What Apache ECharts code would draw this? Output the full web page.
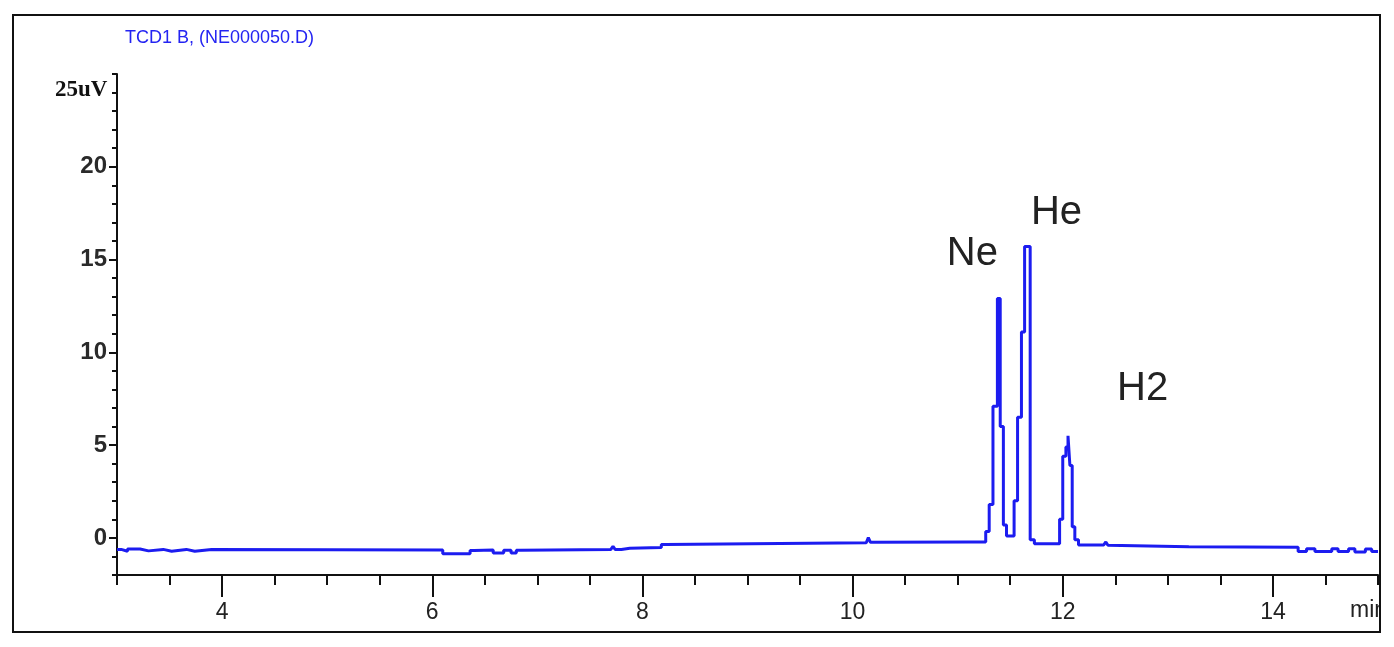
<!DOCTYPE html>
<html>
<head>
<meta charset="utf-8">
<script src="https://cdn.jsdelivr.net/npm/echarts@6/dist/echarts.min.js"></script>
<style>
  html, body { margin: 0; padding: 0; background: #fff; }
  #chart { width: 1394px; height: 647px; }
</style>
</head>
<body>
<div id="chart"></div>
<script>
  // chromatogram trace (min / uV)
  var retentionTime = [
    3.00, 3.04, 3.04, 3.10, 3.10, 3.22, 3.22, 3.30, 3.30, 3.44, 3.44, 3.52, 3.52, 3.66, 3.66, 3.74, 3.74, 3.90, 3.90,
    6.10, 6.10, 6.36, 6.36, 6.40, 6.40, 6.58, 6.58, 6.68, 6.68, 6.75, 6.75, 6.80, 6.80, 6.84, 6.84,
    7.70, 7.72, 7.74, 7.80, 7.80, 7.88, 7.88, 8.18, 8.18, 8.22, 8.22,
    10.13, 10.15, 10.17, 11.10, 11.267, 11.267, 11.30, 11.30, 11.336, 11.336, 11.378, 11.378,
    11.405, 11.405, 11.435, 11.435, 11.465, 11.465, 11.537, 11.537, 11.57, 11.57, 11.607, 11.607,
    11.637, 11.637, 11.69, 11.69, 11.73, 11.73,
    11.97, 11.97, 12.00, 12.00, 12.03, 12.03, 12.05, 12.05, 12.068, 12.068, 12.09, 12.09, 12.115, 12.115, 12.15, 12.15,
    12.39, 12.41, 12.43, 13.20, 14.24, 14.24, 14.32, 14.32, 14.40, 14.40, 14.56, 14.56, 14.62, 14.62, 14.72, 14.72,
    14.78, 14.78, 14.88, 14.88, 14.94, 14.94, 15.00
  ];
  var signal = [
    -0.62, -0.62, -0.72, -0.72, -0.60, -0.60, -0.70, -0.70, -0.62, -0.62, -0.72, -0.72, -0.62, -0.62, -0.72, -0.72, -0.62, -0.62, -0.65,
    -0.65, -0.86, -0.86, -0.68, -0.68, -0.65, -0.65, -0.82, -0.82, -0.66, -0.66, -0.82, -0.82, -0.66, -0.66, -0.66,
    -0.62, -0.45, -0.62, -0.62, -0.56, -0.56, -0.52, -0.52, -0.36, -0.36, -0.28,
    -0.26, 0.02, -0.24, -0.22, -0.22, 0.35, 0.35, 1.8, 1.8, 7.1, 7.1, 12.9,
    12.9, 6.0, 6.0, 0.7, 0.7, 0.1, 0.1, 2.0, 2.0, 6.5, 6.5, 11.1,
    11.1, 15.7, 15.7, -0.1, -0.1, -0.32,
    -0.32, 1.0, 1.0, 4.4, 4.4, 4.9, 4.9, 5.5, 5.5, 3.9, 3.9, 0.6, 0.6, -0.1, -0.1, -0.38,
    -0.38, -0.22, -0.40, -0.48, -0.50, -0.74, -0.74, -0.58, -0.58, -0.74, -0.74, -0.58, -0.58, -0.74, -0.74, -0.58,
    -0.58, -0.76, -0.76, -0.60, -0.60, -0.74, -0.74
  ];

  // axis ticks
  var xLabelValues = [4, 6, 8, 10, 12, 14];
  var xMinorTicks = [3, 3.5, 4.5, 5, 5.5, 6.5, 7, 7.5, 8.5, 9, 9.5, 10.5, 11, 11.5, 12.5, 13, 13.5, 14.5, 15];
  var yLabelValues = [0, 5, 10, 15, 20];
  var yMinorTicks = [-2, -1, 1, 2, 3, 4, 6, 7, 8, 9, 11, 12, 13, 14, 16, 17, 18, 19, 21, 22, 23, 24, 25];

  // peak annotations
  var peakNames = ['Ne', 'He', 'H2'];
  var peakLabelAt = [[11.14, 15.3], [11.94, 17.5], [12.76, 8.0]];

  var chart = echarts.init(document.getElementById('chart'));

  var trace = retentionTime.map(function (t, i) { return [t, signal[i]]; });
  var blue = '#1c1cf0';
  var fontFam = '"Liberation Sans", Arial, sans-serif';

  chart.setOption({
    animation: false,
    backgroundColor: '#fff',
    grid: { left: 117, right: 16, top: 74, bottom: 72 },
    xAxis: [
      {
        type: 'value', min: 3, max: 15, splitLine: { show: false },
        axisLine: { show: true, onZero: false, lineStyle: { color: '#111', width: 2 } },
        axisTick: { show: true, customValues: xLabelValues, length: 22, lineStyle: { color: '#111', width: 2 } },
        axisLabel: { show: true, customValues: xLabelValues, margin: 26, fontSize: 23, color: '#222', fontFamily: fontFam }
      },
      {
        type: 'value', min: 3, max: 15, splitLine: { show: false },
        position: 'bottom',
        axisLine: { show: false, onZero: false },
        axisTick: { show: true, customValues: xMinorTicks, length: 10, lineStyle: { color: '#111', width: 2 } },
        axisLabel: { show: false }
      }
    ],
    yAxis: [
      {
        type: 'value', min: -2, max: 25, splitLine: { show: false },
        axisLine: { show: true, onZero: false, lineStyle: { color: '#111', width: 2 } },
        axisTick: { show: true, customValues: yLabelValues, length: 8, lineStyle: { color: '#111', width: 2 } },
        axisLabel: { show: true, customValues: yLabelValues, margin: 10, fontSize: 24, fontWeight: 'bold', color: '#2a2a2a', fontFamily: fontFam }
      },
      {
        type: 'value', min: -2, max: 25, splitLine: { show: false },
        position: 'left',
        axisLine: { show: false, onZero: false },
        axisTick: { show: true, customValues: yMinorTicks, length: 5, lineStyle: { color: '#111', width: 2 } },
        axisLabel: { show: false }
      }
    ],
    series: [
      {
        type: 'line',
        data: trace,
        xAxisIndex: 0,
        yAxisIndex: 0,
        showSymbol: false,
        symbol: 'none',
        lineStyle: { color: blue, width: 3 },
        markPoint: {
          symbol: 'circle',
          symbolSize: 0,
          label: { show: true, position: 'inside', fontSize: 40, color: '#222', fontFamily: fontFam, formatter: '{b}' },
          data: peakNames.map(function (n, i) { return { name: n, coord: peakLabelAt[i] }; })
        }
      }
    ],
    graphic: [
      { type: 'text', left: 125, top: 29, style: { text: 'TCD1 B, (NE000050.D)', font: '18px "Liberation Sans", sans-serif', fill: '#2424f2' } },
      { type: 'text', left: 55, top: 79, style: { text: '25uV', font: 'bold 23px "Liberation Serif", serif', fill: '#111' } },
      { type: 'text', left: 1350, top: 599, z: 10, style: { text: 'min', font: '23px "Liberation Sans", sans-serif', fill: '#222' } },
      { type: 'rect', z: 11, shape: { x: 1381, y: 560, width: 20, height: 70 }, style: { fill: '#fff' } },
      { type: 'rect', z: 12, shape: { x: 13, y: 15, width: 1367, height: 617 }, style: { fill: 'none', stroke: '#111', lineWidth: 2 } }
    ]
  });
</script>
</body>
</html>
